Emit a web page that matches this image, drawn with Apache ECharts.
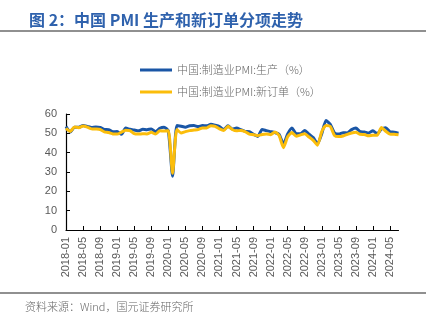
<!DOCTYPE html>
<html>
<head>
<meta charset="utf-8">
<script src="https://cdn.jsdelivr.net/npm/echarts@6/dist/echarts.min.js"></script>
<style>html,body{margin:0;padding:0;background:#fff;}#c{width:439px;height:330px;}</style>
</head>
<body>
<div id="c"></div>
<script>
const titleText = '图 2：中国 PMI 生产和新订单分项走势';
const sourceText = '资料来源：Wind，国元证券研究所';
const seriesNames = ['中国:制造业PMI:生产（%）', '中国:制造业PMI:新订单（%）'];
const yTicks = [0, 10, 20, 30, 40, 50, 60];

const months = [];
for (let y = 2018; y <= 2024; y++) {
  for (let m = 1; m <= 12; m++) {
    if (y === 2024 && m > 7) break;
    months.push(y + '-' + (m < 10 ? '0' + m : m));
  }
}

const production = [
  53.5, 50.7, 53.1, 53.1, 54.1, 53.6, 53.0, 53.3, 53.0, 52.0, 51.9, 50.8,
  50.9, 49.5, 52.7, 52.1, 51.7, 51.3, 52.1, 51.9, 52.3, 50.8, 52.6, 53.2,
  51.3, 27.8, 54.1, 53.7, 53.2, 53.9, 54.0, 53.5, 54.0, 53.9, 54.7, 54.2,
  53.5, 51.9, 53.9, 52.2, 52.7, 51.9, 51.0, 50.9, 49.5, 48.4, 52.0, 51.4,
  50.9, 50.4, 49.5, 44.4, 49.7, 52.8, 49.8, 49.8, 51.5, 49.6, 47.8, 44.6,
  49.8, 56.7, 54.6, 50.2, 49.6, 50.3, 50.2, 51.9, 52.7, 50.9, 50.7, 50.2,
  51.3, 49.8, 52.2, 52.9, 50.8, 50.6, 50.1
];
const newOrders = [
  52.6, 51.0, 53.3, 52.9, 53.8, 53.2, 52.3, 52.2, 52.0, 50.8, 50.4, 49.7,
  49.6, 50.6, 51.6, 51.4, 49.8, 49.6, 49.8, 49.7, 50.5, 49.6, 51.3, 51.2,
  51.4, 29.3, 52.0, 50.2, 50.9, 51.4, 51.7, 52.0, 52.8, 52.8, 53.9, 53.6,
  52.3, 51.5, 53.6, 52.0, 51.3, 51.5, 50.9, 49.6, 49.3, 48.8, 49.4, 49.7,
  49.3, 50.7, 48.8, 42.6, 48.2, 50.4, 48.5, 49.2, 49.8, 48.1, 46.4, 43.9,
  50.9, 54.1, 53.6, 48.8, 48.3, 48.6, 49.5, 50.2, 50.5, 49.5, 49.4, 48.7,
  49.0, 49.0, 53.0, 51.1, 49.6, 49.5, 49.3
];

const chart = echarts.init(document.getElementById('c'), null, {renderer: 'canvas'});
const gray = '#595959';
const lightGray = '#666666';
const cjk = '"Noto Sans CJK SC", "Liberation Sans", sans-serif';
chart.setOption({
  animation: false,
  backgroundColor: '#fff',
  title: {
    text: titleText,
    left: 24, top: 7,
    textStyle: {color: '#2f62ad', fontSize: 16, fontWeight: 'bold', fontFamily: cjk}
  },
  graphic: [
    {type: 'line', shape: {x1: 0, y1: 31, x2: 426, y2: 31}, style: {stroke: '#222', lineWidth: 1.2}},
    {type: 'line', shape: {x1: 0, y1: 293, x2: 426, y2: 293}, style: {stroke: '#222', lineWidth: 1.2}},
    {type: 'text', left: 25, top: 301, style: {text: sourceText, fill: lightGray, fontSize: 11, fontWeight: 300, fontFamily: cjk}}
  ],
  legend: {
    orient: 'vertical',
    left: 135, top: 58,
    itemWidth: 32, itemHeight: 3,
    itemGap: 8,
    icon: 'rect',
    textStyle: {color: lightGray, fontSize: 11, fontWeight: 300, fontFamily: cjk, lineHeight: 14},
    data: seriesNames
  },
  grid: {left: 66, right: 40.5, top: 114, bottom: 100, containLabel: false},
  xAxis: {
    type: 'category',
    data: months,
    boundaryGap: false,
    axisLine: {lineStyle: {color: '#000', width: 1.2}},
    axisTick: {inside: true, interval: 3, length: 4, lineStyle: {color: '#000'}},
    axisLabel: {interval: 3, rotate: 90, color: gray, fontSize: 11, margin: 7, fontFamily: 'Liberation Sans, Arial, sans-serif'},
    splitLine: {show: false}
  },
  yAxis: {
    type: 'value',
    min: yTicks[0], max: yTicks[yTicks.length - 1], interval: 10,
    axisLine: {show: true, lineStyle: {color: '#000', width: 1.2}},
    axisTick: {show: true, inside: true, length: 4, lineStyle: {color: '#000'}},
    axisLabel: {color: gray, fontSize: 11, margin: 9, fontFamily: 'Liberation Sans, Arial, sans-serif'},
    splitLine: {show: false}
  },
  series: [
    {name: seriesNames[0], type: 'line', data: production, showSymbol: false, smooth: 0.2,
     lineStyle: {color: '#1a56a6', width: 3}, itemStyle: {color: '#1a56a6'}},
    {name: seriesNames[1], type: 'line', data: newOrders, showSymbol: false, smooth: 0.2,
     lineStyle: {color: '#fbbd0b', width: 3}, itemStyle: {color: '#fbbd0b'}}
  ]
});
</script>
</body>
</html>
